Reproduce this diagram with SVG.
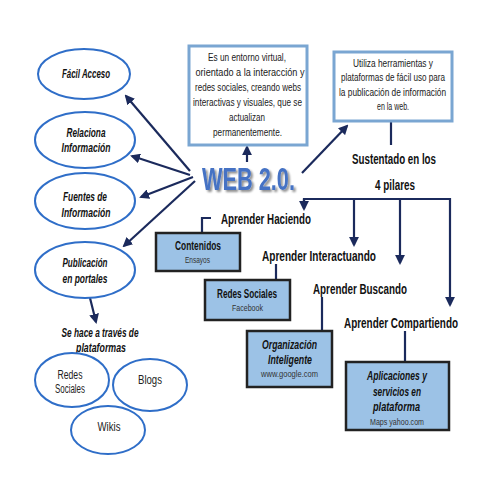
<svg xmlns="http://www.w3.org/2000/svg" width="495" height="495" viewBox="0 0 495 495">
<defs>
<marker id="ah" viewBox="0 0 10 10" refX="8" refY="5" markerWidth="4.5" markerHeight="4.5" orient="auto" markerUnits="strokeWidth">
<path d="M0,0 L10,5 L0,10 z" fill="#1b2a5c"/>
</marker>
<filter id="sh" x="-10%" y="-20%" width="130%" height="150%">
<feGaussianBlur in="SourceAlpha" stdDeviation="1.2"/>
<feOffset dx="1.5" dy="2" result="b"/>
<feComponentTransfer><feFuncA type="linear" slope="0.45"/></feComponentTransfer>
<feMerge><feMergeNode/><feMergeNode in="SourceGraphic"/></feMerge>
</filter>
</defs>
<style>
text{font-family:"Liberation Sans Narrow","Liberation Sans",Arial,sans-serif;fill:#111;text-anchor:middle}
.el{fill:#fff;stroke:#2f6ec8;stroke-width:2}
.bi{font-weight:bold;font-style:italic;font-size:12.5px}
.sm{font-size:12px;fill:#222}
.ib{fill:#fff;stroke:#7aa6d2;stroke-width:3}
.it{font-size:11.5px;fill:#1a1a1a}
.pb{fill:#9cc2e6;stroke:#222;stroke-width:2.5}
.pt{font-weight:bold;font-size:12px}
.ps{font-size:9.5px;fill:#333}
.lb{font-weight:bold;font-size:14px}
.cn{fill:none;stroke:#1b2a5c;stroke-width:2.2}
.web{font-weight:bold;font-size:31px;fill:#4472c4}
</style>
<rect width="495" height="495" fill="#fff"/>
<g id="connectors">
<line class="cn" x1="190" y1="171" x2="126" y2="96" marker-end="url(#ah)"/>
<line class="cn" x1="190" y1="175" x2="132" y2="156" marker-end="url(#ah)"/>
<line class="cn" x1="193" y1="177" x2="141" y2="197" marker-end="url(#ah)"/>
<line class="cn" x1="195" y1="181" x2="124" y2="246" marker-end="url(#ah)"/>
<line class="cn" x1="90" y1="298" x2="96" y2="322" marker-end="url(#ah)"/>
<line class="cn" x1="247" y1="162" x2="247" y2="147" marker-end="url(#ah)"/>
<line class="cn" x1="302" y1="173" x2="347" y2="126" marker-end="url(#ah)"/>
<line class="cn" x1="391" y1="121" x2="391" y2="145"/>
<polyline class="cn" points="304,208 304,199 450,199 450,305" marker-end="url(#ah)"/>
<line class="cn" x1="304" y1="199" x2="304" y2="209" marker-end="url(#ah)"/>
<line class="cn" x1="354" y1="199" x2="354" y2="245" marker-end="url(#ah)"/>
<line class="cn" x1="400" y1="199" x2="400" y2="263" marker-end="url(#ah)"/>
<polyline class="cn" points="211,218 202,218 202,233"/>
<line class="cn" x1="276" y1="264" x2="276" y2="280"/>
<line class="cn" x1="322" y1="297" x2="322" y2="331"/>
<line class="cn" x1="405" y1="331" x2="405" y2="362"/>
</g>
<g id="facil-acceso">
<ellipse class="el" cx="84" cy="74" rx="46" ry="25"/>
<text class="bi" x="86" y="78" textLength="48" lengthAdjust="spacingAndGlyphs">Fácil Acceso</text>
</g>
<g id="relaciona">
<ellipse class="el" cx="85" cy="140" rx="50" ry="28"/>
<text class="bi" x="86" y="137" textLength="39" lengthAdjust="spacingAndGlyphs">Relaciona</text>
<text class="bi" x="86" y="152" textLength="49" lengthAdjust="spacingAndGlyphs">Información</text>
</g>
<g id="fuentes">
<ellipse class="el" cx="85" cy="201" rx="50" ry="28"/>
<text class="bi" x="85" y="201" textLength="44" lengthAdjust="spacingAndGlyphs">Fuentes de</text>
<text class="bi" x="86" y="217" textLength="49" lengthAdjust="spacingAndGlyphs">Información</text>
</g>
<g id="publicacion">
<ellipse class="el" cx="85" cy="270" rx="50" ry="28"/>
<text class="bi" x="85" y="267" textLength="45" lengthAdjust="spacingAndGlyphs">Publicación</text>
<text class="bi" x="85" y="283" textLength="45" lengthAdjust="spacingAndGlyphs">en portales</text>
</g>
<g id="plataformas-label">
<text class="bi" x="100" y="337" textLength="77" lengthAdjust="spacingAndGlyphs">Se hace a través de</text>
<text class="bi" x="101" y="352" textLength="50" lengthAdjust="spacingAndGlyphs">plataformas</text>
</g>
<g id="redes-sociales-el">
<ellipse class="el" cx="72" cy="380" rx="37" ry="27"/>
<text class="sm" x="70" y="379" textLength="25" lengthAdjust="spacingAndGlyphs">Redes</text>
<text class="sm" x="70" y="393" textLength="30" lengthAdjust="spacingAndGlyphs">Sociales</text>
</g>
<g id="blogs">
<ellipse class="el" cx="150" cy="385" rx="37" ry="26"/>
<text class="sm" x="150" y="384" textLength="24" lengthAdjust="spacingAndGlyphs">Blogs</text>
</g>
<g id="wikis">
<ellipse class="el" cx="108" cy="430" rx="37" ry="24"/>
<text class="sm" x="109" y="431" textLength="23" lengthAdjust="spacingAndGlyphs">Wikis</text>
</g>
<g id="web20">
<text class="web" x="248.5" y="190" textLength="93" lengthAdjust="spacingAndGlyphs" filter="url(#sh)">WEB 2.0.</text>
</g>
<g id="definicion">
<rect class="ib" x="189" y="46" width="118" height="99"/>
<text class="it" x="247" y="61" textLength="78" lengthAdjust="spacingAndGlyphs">Es un entorno virtual,</text>
<text class="it" x="250" y="76" textLength="109" lengthAdjust="spacingAndGlyphs">orientado a la interacción y</text>
<text class="it" x="248" y="91" textLength="106" lengthAdjust="spacingAndGlyphs">redes sociales, creando webs</text>
<text class="it" x="247.5" y="106" textLength="109" lengthAdjust="spacingAndGlyphs">interactivas y visuales, que se</text>
<text class="it" x="247" y="121" textLength="36" lengthAdjust="spacingAndGlyphs">actualizan</text>
<text class="it" x="247.5" y="136" textLength="69" lengthAdjust="spacingAndGlyphs">permanentemente.</text>
</g>
<g id="herramientas">
<rect class="ib" x="334" y="52" width="118" height="69"/>
<text class="it" x="393" y="67" textLength="80" lengthAdjust="spacingAndGlyphs">Utiliza herramientas y</text>
<text class="it" x="393" y="81" textLength="104" lengthAdjust="spacingAndGlyphs">plataformas de fácil uso para</text>
<text class="it" x="392.5" y="96" textLength="107" lengthAdjust="spacingAndGlyphs">la publicación de información</text>
<text class="it" x="393" y="110" textLength="32" lengthAdjust="spacingAndGlyphs">en la web.</text>
</g>
<g id="sustentado">
<text class="lb" x="394" y="164" textLength="84" lengthAdjust="spacingAndGlyphs">Sustentado en los</text>
<text class="lb" x="395" y="190" textLength="40" lengthAdjust="spacingAndGlyphs">4 pilares</text>
</g>
<g id="aprender-haciendo">
<text class="lb" x="266" y="224" textLength="90" lengthAdjust="spacingAndGlyphs">Aprender Haciendo</text>
</g>
<g id="contenidos">
<rect class="pb" x="156" y="233" width="84" height="38"/>
<text class="pt" x="198" y="250" textLength="46" lengthAdjust="spacingAndGlyphs">Contenidos</text>
<text class="ps" x="197.5" y="263" textLength="25" lengthAdjust="spacingAndGlyphs">Ensayos</text>
</g>
<g id="aprender-interactuando">
<text class="lb" x="319" y="261" textLength="114" lengthAdjust="spacingAndGlyphs">Aprender Interactuando</text>
</g>
<g id="redes-sociales">
<rect class="pb" x="205" y="280" width="85" height="40"/>
<text class="pt" x="247" y="298" textLength="60" lengthAdjust="spacingAndGlyphs">Redes Sociales</text>
<text class="ps" x="247.5" y="311" textLength="31" lengthAdjust="spacingAndGlyphs">Facebook</text>
</g>
<g id="aprender-buscando">
<text class="lb" x="360" y="294" textLength="94" lengthAdjust="spacingAndGlyphs">Aprender Buscando</text>
</g>
<g id="organizacion">
<rect class="pb" x="247" y="331" width="85" height="56"/>
<text class="pt" font-style="italic" x="289.5" y="349" textLength="55" lengthAdjust="spacingAndGlyphs">Organización</text>
<text class="pt" font-style="italic" x="290" y="364" textLength="44" lengthAdjust="spacingAndGlyphs">Inteligente</text>
<text class="ps" x="289.5" y="377" textLength="57" lengthAdjust="spacingAndGlyphs">www.google.com</text>
</g>
<g id="aprender-compartiendo">
<text class="lb" x="401" y="328" textLength="114" lengthAdjust="spacingAndGlyphs">Aprender Compartiendo</text>
</g>
<g id="aplicaciones">
<rect class="pb" x="346" y="362" width="103" height="68"/>
<text class="pt" font-style="italic" x="397" y="380" textLength="60" lengthAdjust="spacingAndGlyphs">Aplicaciones  y</text>
<text class="pt" font-style="italic" x="397" y="396" textLength="48" lengthAdjust="spacingAndGlyphs">servicios en</text>
<text class="pt" font-style="italic" x="396.5" y="411" textLength="47" lengthAdjust="spacingAndGlyphs">plataforma</text>
<text class="ps" x="397" y="425" textLength="54" lengthAdjust="spacingAndGlyphs">Maps yahoo.com</text>
</g>
</svg>
